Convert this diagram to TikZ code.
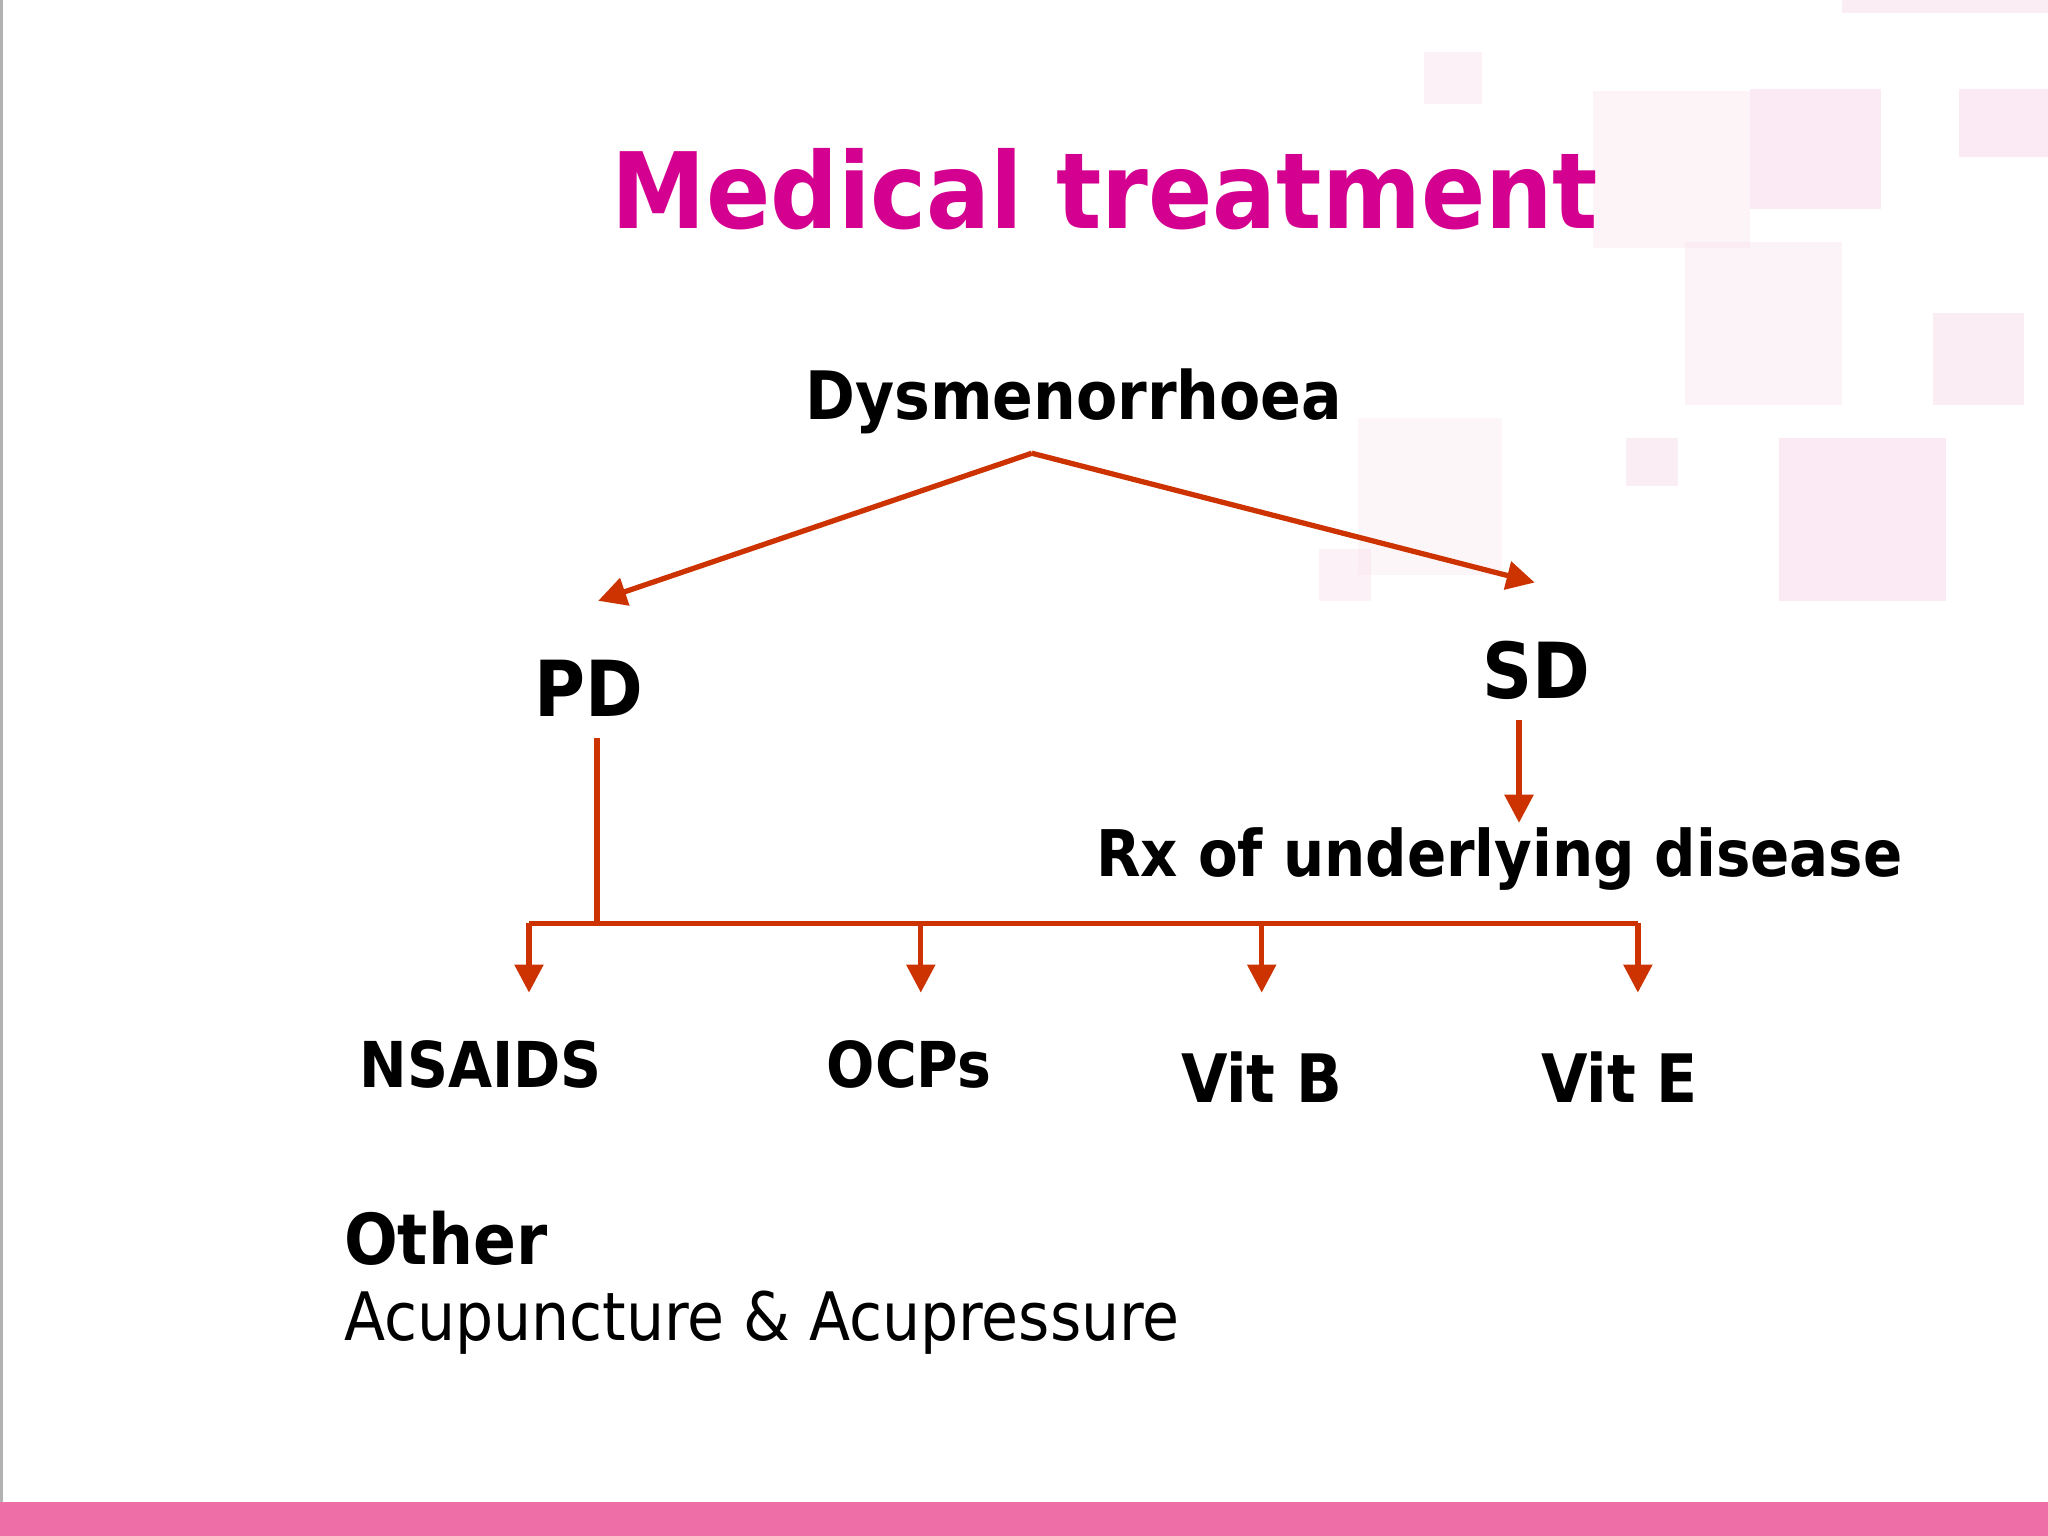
\documentclass[tikz,border=0pt]{standalone}
\usepackage{fontspec}
\setmainfont{DejaVu Sans Condensed}
\usetikzlibrary{arrows.meta}
\definecolor{magenta1}{HTML}{D4008F}
\definecolor{arr}{HTML}{CC3300}
\definecolor{band}{HTML}{EE6EA8}
\definecolor{sq}{HTML}{F9DDEB}
\tikzset{
 lbl/.style={font=\fontsize{19}{23}\selectfont\bfseries, inner sep=0pt},
 con/.style={draw=arr, line width=1.5pt},
 arrw/.style={con, -{Triangle[width=8pt,length=8pt]}}
}
\begin{document}
\begin{tikzpicture}[x=0.01306cm,y=-0.01306cm]
\useasboundingbox (0,0) rectangle (1568,1176);
\fill[white] (0,0) rectangle (1568,1176);
\foreach \a/\b/\c/\d/\o in {1340/68/1440/160/0.6, 1500/68/1568/120/0.6, 1362/335/1490/460/0.6, 1480/240/1550/310/0.5, 1290/185/1410/310/0.35, 1220/70/1340/190/0.3, 1090/40/1135/80/0.4, 1245/335/1285/372/0.5, 1010/420/1050/460/0.4, 1040/320/1150/440/0.25, 1410/0/1568/10/0.5}
  \fill[sq,opacity=\o] (\a,\b) rectangle (\c,\d);
\draw[gray!60, line width=1pt] (1,0) -- (1,1150);
\fill[band] (0,1150) rectangle (1568,1176);
\node[font=\fontsize{30}{36}\selectfont\bfseries, text=magenta1] (title) at (846,145) {Medical treatment};
\node[lbl] (dys) at (822,307) {Dysmenorrhoea};
\coordinate (apex) at (790,347);
\node[lbl, font=\fontsize{22}{26}\selectfont\bfseries] (pd) at (451,527) {PD};
\node[lbl, font=\fontsize{22}{26}\selectfont\bfseries] (sd) at (1176,513) {SD};
\coordinate (pdt) at (458,460);
\coordinate (sdt) at (1175,446);
\draw[arrw] (apex) -- (pdt);
\draw[arrw] (apex) -- (sdt);
\node[lbl, font=\fontsize{18.3}{22}\selectfont\bfseries] (rx) at (1148,658) {Rx of underlying disease};
\draw[arrw] (1163,551) -- (1163,630);
\coordinate (pdb) at (457,565);
\coordinate (j) at (457,707);
\draw[con] (pdb) -- (j);
\coordinate (b1) at (405,707);
\coordinate (b2) at (705,707);
\coordinate (b3) at (966,707);
\coordinate (b4) at (1254,707);
\draw[con] (b1) -- (b4);
\node[lbl, font=\fontsize{18}{22}\selectfont\bfseries] (ns) at (368,815) {NSAIDS};
\node[lbl, font=\fontsize{18}{22}\selectfont\bfseries] (oc) at (696,815) {OCPs};
\node[lbl] (vb) at (966,825) {Vit B};
\node[lbl] (ve) at (1240,825) {Vit E};
\foreach \b in {b1,b2,b3,b4} \draw[arrw] (\b) -- ++(0,53);
\node[lbl, font=\fontsize{20}{24}\selectfont\bfseries, anchor=west] (oth) at (263,948) {Other};
\node[anchor=west, inner sep=0pt, font=\fontsize{19}{23}\selectfont] (acu) at (263,1013) {Acupuncture \& Acupressure};
\end{tikzpicture}
\end{document}
